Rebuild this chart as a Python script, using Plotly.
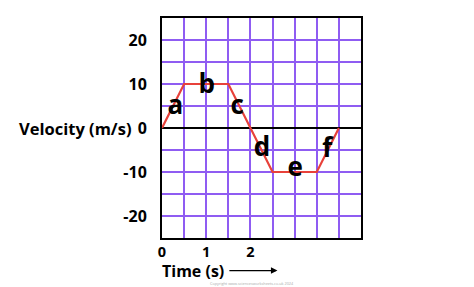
import plotly.graph_objects as go

time_s = [0, 0.5, 1.5, 2.5, 3.5, 4]
velocity = [0, 10, 10, -10, -10, 0]

seg_labels = ["a", "b", "c", "d", "e", "f"]
seg_x = [0.30, 1.01, 1.70, 2.26, 3.01, 3.74]
seg_y = [4.6, 9.4, 4.6, -4.9, -9.4, -5.1]

x_ticks = [0, 1, 2]
y_ticks = [-20, -10, 0, 10, 20]

FONT = "Open Sans"
purple = "#8f5cf2"

fig = go.Figure()
fig.add_trace(go.Scatter(x=time_s, y=velocity, mode="lines",
                         line=dict(color="#e8413a", width=2.2),
                         showlegend=False, hoverinfo="skip"))
fig.add_trace(go.Scatter(x=seg_x, y=seg_y, mode="text", text=seg_labels,
                         textfont=dict(family=FONT, size=26, color="black", weight="bold"),
                         showlegend=False, hoverinfo="skip"))

fig.update_layout(
    width=474, height=287,
    margin=dict(l=162, r=113, t=18, b=49),
    plot_bgcolor="white", paper_bgcolor="white",
    font=dict(family=FONT, color="black"),
    xaxis=dict(range=[0, 4.5], tickvals=x_ticks, ticktext=[str(v) for v in x_ticks],
               showgrid=True, gridcolor=purple, gridwidth=1.6,
               minor=dict(dtick=0.5, tick0=0, showgrid=True, gridcolor=purple, gridwidth=1.6),
               zeroline=False, showline=True, mirror=True, linecolor="black", linewidth=2,
               ticks="", ticklabelstandoff=0,
               tickfont=dict(family=FONT, size=14.5, color="black", weight="bold"),
               fixedrange=True),
    yaxis=dict(range=[-25, 25], tickvals=y_ticks, ticktext=[str(v) for v in y_ticks],
               showgrid=True, gridcolor=purple, gridwidth=1.6,
               minor=dict(dtick=5, tick0=0, showgrid=True, gridcolor=purple, gridwidth=1.6),
               zeroline=True, zerolinecolor="black", zerolinewidth=1.6,
               showline=True, mirror=True, linecolor="black", linewidth=2,
               ticks="", ticklabelstandoff=10,
               tickfont=dict(family=FONT, size=16, color="black", weight="bold"),
               fixedrange=True),
    annotations=[
        dict(text="Velocity (m/s)", xref="paper", yref="y", x=-0.145, y=0,
             xanchor="right", yanchor="middle", showarrow=False,
             font=dict(family=FONT, size=16.5, color="black", weight="bold")),
        dict(text="Time (s)", xref="paper", yref="paper", x=-0.01, y=-0.148,
             xanchor="left", yanchor="middle", showarrow=False,
             font=dict(family=FONT, size=16, color="black", weight="bold")),
        dict(text="", xref="x", yref="paper", x=2.61, y=-0.148,
             axref="x", ax=1.49, ayref="pixel", ay=0,
             showarrow=True, arrowhead=2, arrowsize=1, arrowwidth=1.3,
             arrowcolor="black"),
        dict(text="Copyright www.sciencesworksheets.co.uk 2024", xref="paper", yref="paper",
             x=0.45, y=-0.209, xanchor="center", yanchor="middle", showarrow=False,
             font=dict(family=FONT, size=3.8, color="#aaaaaa")),
    ],
)

fig.write_html("out.html")
